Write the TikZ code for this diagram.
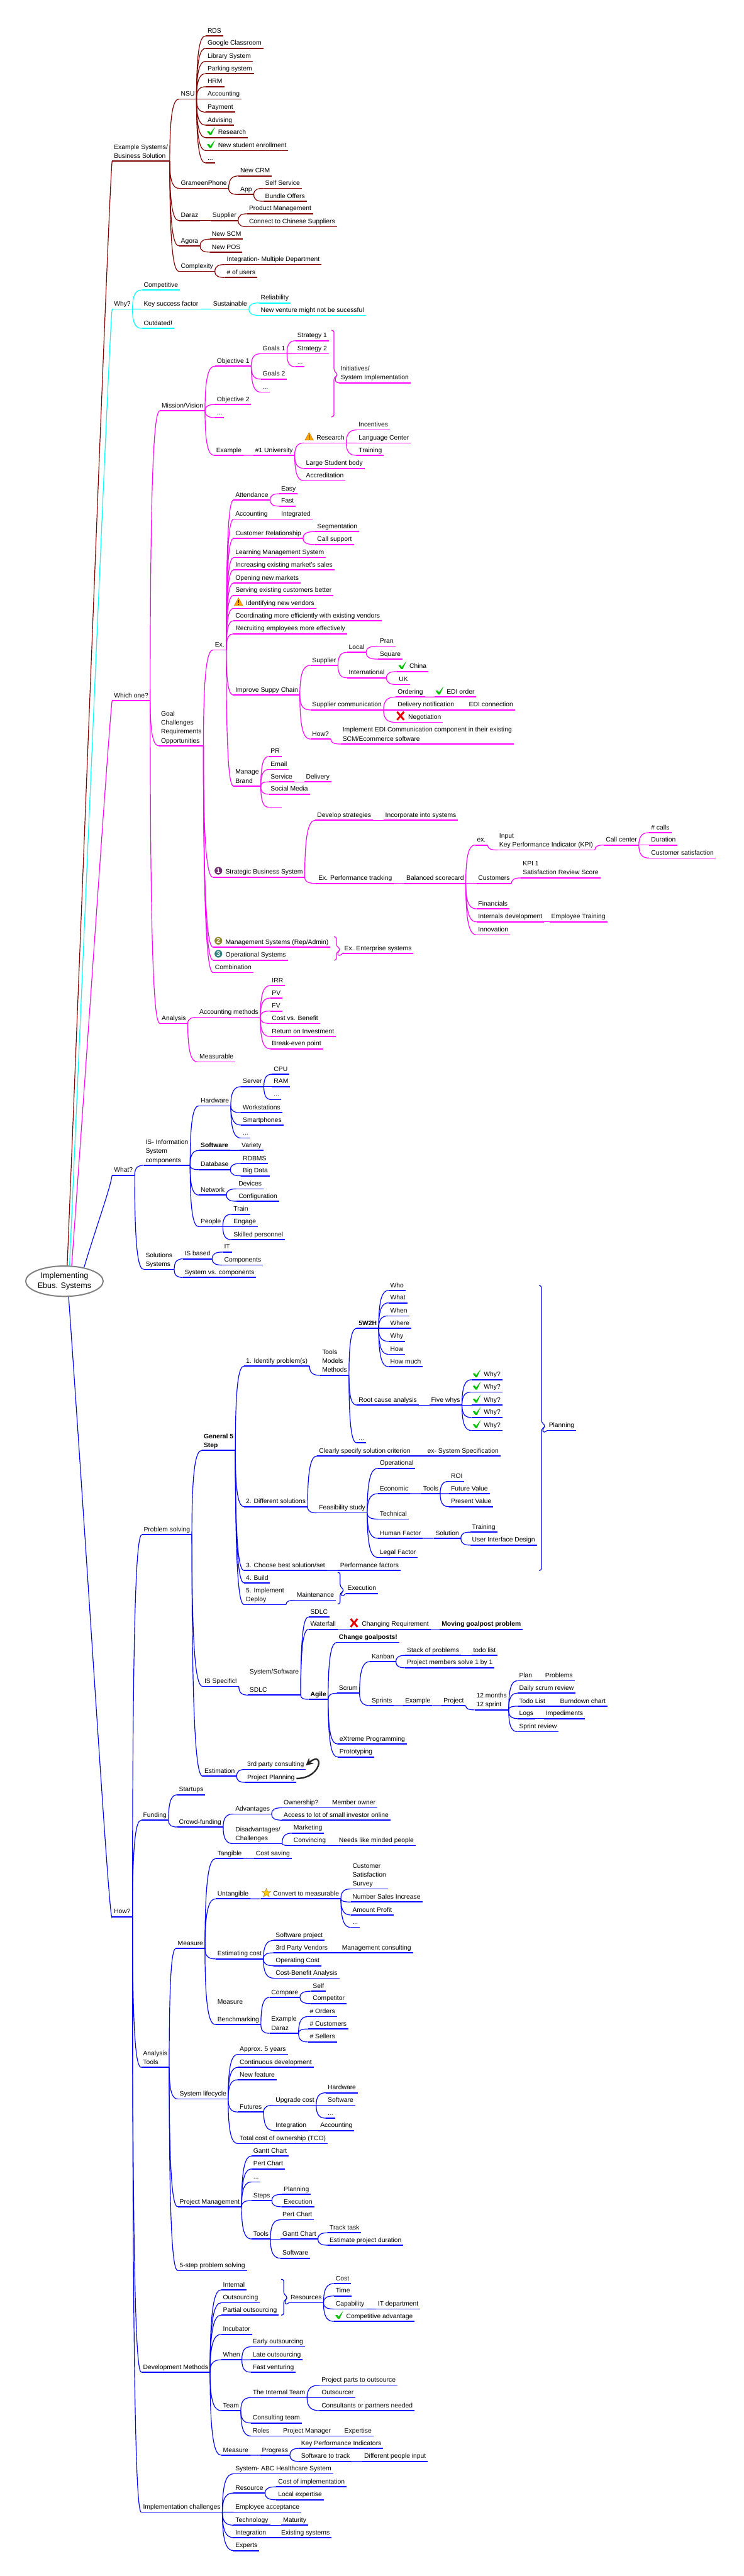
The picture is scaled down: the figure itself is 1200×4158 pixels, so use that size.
\documentclass[tikz,border=0pt]{standalone}
\usepackage{fontspec}
\setmainfont{Liberation Sans}
\usetikzlibrary{calc,arrows.meta,shapes.geometric}
\definecolor{darkbranch}{HTML}{800000}
\definecolor{cyanbranch}{HTML}{00FFFF}
\definecolor{pinkbranch}{HTML}{FF00FF}
\definecolor{bluebranch}{HTML}{0000FF}
\colorlet{branchcol}{darkbranch}
\tikzset{
  topic/.style={anchor=south west,inner xsep=1.5pt,inner ysep=0pt,outer sep=0pt,align=left,font=\fontsize{5.25pt}{7.2pt}\selectfont,text depth=2.5pt},
  under/.style={draw=branchcol,line width=.85pt},
  link/.style={draw=branchcol,line width=.6pt},
  rootnode/.style={ellipse,draw=black!50,line width=1pt,fill=white,minimum width=62.5pt,minimum height=24.5pt,inner sep=0pt,align=center,font=\fontsize{6.4pt}{8.5pt}\selectfont},
  relation/.style={black!85,line width=1.2pt,-{Stealth[length=6pt,width=6pt]}},
  chk/.pic={\fill[green!75!black] (2,-10) -- (5.5,-10.5) -- (7.5,-7.5) -- (15,-17) -- (9,-4) -- (6.5,-4) -- cycle;},
  warn/.pic={\draw[orange!80!black,fill=orange!70!yellow,line width=.2pt] (8,-17) -- (15,-4.5) -- (1,-4.5) -- cycle;
    \draw[black,line width=.5pt] (8,-13.5) -- (8,-8.5) (8,-7) -- (8,-5.8);},
  crossmark/.pic={\draw[red!90!black,line width=1.5pt] (2,-17) -- (13,-4) (13,-17) -- (2,-4);},
  goldstar/.pic={\draw[orange!70!black,fill=yellow!70!orange,line width=.2pt] (9,-17) -- (10.8,-12) -- (16,-12) -- (12,-8.8) -- (13.5,-3.5) -- (9,-6.6) -- (4.5,-3.5) -- (6,-8.8) -- (2,-12) -- (7.2,-12) -- cycle;},
  pics/numicon/.style n args={2}{code={\fill[#1] (8.5,-10.5) circle (3.1pt);
    \node[white,inner sep=0pt,font=\fontsize{5.5pt}{6pt}\selectfont\bfseries] (digit) at (8.5,-10.5) {#2};}}
}
% node with its underline
\newcommand{\bt}[4]{\node[topic] (#1) at (#2-1,#3) {#4};
  \draw[under] (#1.south west) -- (#1.south east);}
% node, underline and the link from its parent
\newcommand{\tp}[5]{\bt{#1}{#3}{#4}{#5}
  \draw[link] (#2.south east) .. controls ($(#2.south east)!.8!(#1.south west -| #2.south east)$) and ($(#1.south west)!.6!(#1.south west -| #2.south east)$) .. (#1.south west);}
% same with an icon in front of the text
\newcommand{\tpi}[6]{\tp{#2}{#3}{#4}{#5}{\hspace*{8.5pt}#6}
  \pic at (#2.south west) {#1};}
\newcommand{\rootlink}[2]{\draw[link] (root.#1) .. controls ($(root.#1)!.5!(#2.south west)$) and ($(#2.south west)+(-4,24)$) .. (#2.south west);}
% summary bracket: name, x, top, bottom, nub, target
\newcommand{\spanbrace}[6]{\coordinate (#1) at (#2+5,#5);
  \draw[link] (#2-4,#3) to[out=0,in=90] (#2,#3+3) -- (#2,#5-10) .. controls (#2,#5-4) and (#2+5,#5-4) .. (#1) .. controls (#2+5,#5+3) and (#2,#5+3) .. (#2,#5+8) -- (#2,#4-3) to[out=-90,in=0] (#2-4,#4);
  \draw[link] (#1) .. controls (#2,#5+8) and (#2+2,#5+13) .. (#6.south west);}

\begin{document}
\begin{tikzpicture}[x=.5pt,y=-.5pt]
\useasboundingbox (0,0) rectangle (1200,4158);
\node[rootnode] (root) at (104,2068) {Implementing\\Ebus. Systems};

% dark red
\bt{exsys}{182}{260}{Example Systems/\\Business Solution}
\rootlink{80}{exsys}
\tp{nsu}{exsys}{290}{160}{NSU}
\tp{rds}{nsu}{333}{58}{RDS}
\tp{gclass}{nsu}{333}{78}{Google Classroom}
\tp{lib}{nsu}{333}{99}{Library System}
\tp{park}{nsu}{333}{119}{Parking system}
\tp{hrm}{nsu}{333}{140}{HRM}
\tp{acc}{nsu}{333}{160}{Accounting}
\tp{pay}{nsu}{333}{181}{Payment}
\tp{adv}{nsu}{333}{202}{Advising}
\tpi{chk}{res}{nsu}{333}{222}{Research}
\tpi{chk}{enrol}{nsu}{333}{243}{New student enrollment}
\tp{nsumore}{nsu}{333}{263}{...}
\tp{gp}{exsys}{290}{304}{GrameenPhone}
\tp{crm}{gp}{386}{284}{New CRM}
\tp{app}{gp}{386}{314}{App}
\tp{self}{app}{426}{304}{Self Service}
\tp{bundle}{app}{426}{325}{Bundle Offers}
\tp{daraz}{exsys}{290}{356}{Daraz}
\tp{supp}{daraz}{341}{356}{Supplier}
\tp{prodm}{supp}{400}{345}{Product Management}
\tp{chinese}{supp}{400}{366}{Connect to Chinese Suppliers}
\tp{agora}{exsys}{290}{397}{Agora}
\tp{scm}{agora}{340}{386}{New SCM}
\tp{pos}{agora}{340}{407}{New POS}
\tp{cplx}{exsys}{290}{438}{Complexity}
\tp{integ}{cplx}{364}{427}{Integration- Multiple Department}
\tp{users}{cplx}{364}{448}{\# of users}

% cyan
\colorlet{branchcol}{cyanbranch}
\bt{why}{182}{499}{Why?}
\rootlink{72}{why}
\tp{comp}{why}{230}{468}{Competitive}
\tp{ksf}{why}{230}{499}{Key success factor}
\tp{outd}{why}{230}{530}{Outdated!}
\tp{sust}{ksf}{342}{499}{Sustainable}
\tp{rely}{sust}{419}{489}{Reliability}
\tp{vent}{sust}{419}{509}{New venture might not be sucessful}

% magenta
\colorlet{branchcol}{pinkbranch}
\bt{which}{182}{1131}{Which one?}
\rootlink{65}{which}
\tp{mission}{which}{259}{663}{Mission/Vision}
\tp{obj1}{mission}{348}{591}{Objective 1}
\tp{goal1}{obj1}{422}{571}{Goals 1}
\tp{strat1}{goal1}{478}{550}{Strategy 1}
\tp{strat2}{goal1}{478}{571}{Strategy 2}
\tp{goal1more}{goal1}{478}{592}{...}
\tp{goal2}{obj1}{422}{612}{Goals 2}
\tp{obj1more}{obj1}{422}{633}{...}
\tp{obj2}{mission}{348}{653}{Objective 2}
\tp{missmore}{mission}{348}{674}{...}
\bt{init}{548}{618}{Initiatives/\\System Implementation}
\spanbrace{initb}{539}{533}{673}{605}{init}
\tp{example}{mission}{347}{735}{Example}
\tp{univ}{example}{410}{735}{\#1 University}
\tpi{warn}{unires}{univ}{492}{715}{Research}
\tp{incent}{unires}{577}{694}{Incentives}
\tp{lang}{unires}{577}{715}{Language Center}
\tp{train}{unires}{577}{735}{Training}
\tp{large}{univ}{492}{756}{Large Student body}
\tp{accr}{univ}{492}{776}{Accreditation}

\tp{goal}{which}{258}{1204}{Goal\\Challenges\\Requirements\\Opportunities}
\tp{exa}{goal}{345}{1049}{Ex.}
\tp{attend}{exa}{378}{807}{Attendance}
\tp{easy}{attend}{452}{797}{Easy}
\tp{fast}{attend}{452}{817}{Fast}
\tp{exacc}{exa}{378}{838}{Accounting}
\tp{integr}{exacc}{452}{838}{Integrated}
\tp{custrel}{exa}{378}{869}{Customer Relationship}
\tp{segm}{custrel}{510}{858}{Segmentation}
\tp{callsup}{custrel}{510}{879}{Call support}
\tp{lms}{exa}{378}{900}{Learning Management System}
\tp{incsales}{exa}{378}{920}{Increasing existing market's sales}
\tp{newmark}{exa}{378}{941}{Opening new markets}
\tp{serving}{exa}{378}{961}{Serving existing customers better}
\tpi{warn}{newvend}{exa}{378}{982}{Identifying new vendors}
\tp{coord}{exa}{378}{1002}{Coordinating more efficiently with existing vendors}
\tp{recruit}{exa}{378}{1023}{Recruiting employees more effectively}
\tp{improve}{exa}{378}{1122}{Improve Suppy Chain}
\tp{supplier}{improve}{502}{1074}{Supplier}
\tp{local}{supplier}{561}{1053}{Local}
\tp{pran}{local}{611}{1043}{Pran}
\tp{square}{local}{611}{1064}{Square}
\tp{intl}{supplier}{561}{1094}{International}
\tpi{chk}{china}{intl}{642}{1084}{China}
\tp{uk}{intl}{642}{1105}{UK}
\tp{suppcom}{improve}{502}{1146}{Supplier communication}
\tp{ordering}{suppcom}{640}{1125}{Ordering}
\tpi{chk}{ediord}{ordering}{702}{1125}{EDI order}
\tp{delnot}{suppcom}{640}{1146}{Delivery notification}
\tp{edicon}{delnot}{755}{1146}{EDI connection}
\tpi{crossmark}{negot}{suppcom}{640}{1166}{Negotiation}
\tp{howedi}{improve}{502}{1193}{How?}
\tp{impl}{howedi}{551}{1201}{Implement EDI Communication component in their existing\\SCM/Ecommerce software}
\tp{brand}{exa}{378}{1269}{Manage\\Brand}
\tp{pr}{brand}{435}{1221}{PR}
\tp{email}{brand}{435}{1242}{Email}
\tp{service}{brand}{435}{1262}{Service}
\tp{deliv}{service}{492}{1262}{Delivery}
\tp{social}{brand}{435}{1282}{Social Media}
\tp{brandmore}{brand}{435}{1303}{\hspace*{7.5pt}}
\tpi{numicon={violet!60!black!80}{1}}{strbus}{goal}{345}{1416}{Strategic Business System}
\tp{devstr}{strbus}{510}{1324}{Develop strategies}
\tp{incorp}{devstr}{620}{1324}{Incorporate into systems}
\tp{perf}{strbus}{512}{1426}{Ex. Performance tracking}
\tp{bal}{perf}{654}{1426}{Balanced scorecard}
\tp{exb}{bal}{768}{1364}{ex.}
\tp{kpi}{exb}{804}{1372}{Input\\Key Performance Indicator (KPI)}
\tp{callc}{kpi}{976}{1364}{Call center}
\tp{calls}{callc}{1049}{1344}{\# calls}
\tp{durat}{callc}{1049}{1364}{Duration}
\tp{csat}{callc}{1049}{1385}{Customer satisfaction}
\tp{cust}{bal}{770}{1426}{Customers}
\tp{kpione}{cust}{842}{1417}{KPI 1\\Satisfaction Review Score}
\tp{fin}{bal}{770}{1467}{Financials}
\tp{inter}{bal}{770}{1488}{Internals development}
\tp{emptr}{inter}{888}{1488}{Employee Training}
\tp{innov}{bal}{770}{1509}{Innovation}
\tpi{numicon={olive!70!gray}{2}}{mgmt}{goal}{345}{1529}{Management Systems (Rep/Admin)}
\tpi{numicon={teal!60!gray}{3}}{oper}{goal}{345}{1550}{Operational Systems}
\tp{combi}{goal}{345}{1570}{Combination}
\bt{enter}{554}{1539}{Ex. Enterprise systems}
\spanbrace{enterb}{543}{1512}{1550}{1533}{enter}
\tp{analysis}{which}{259}{1652}{Analysis}
\tp{acm}{analysis}{320}{1642}{Accounting methods}
\tp{irr}{acm}{437}{1591}{IRR}
\tp{pv}{acm}{437}{1611}{PV}
\tp{fv}{acm}{437}{1632}{FV}
\tp{costben}{acm}{437}{1652}{Cost vs. Benefit}
\tp{roi}{acm}{437}{1673}{Return on Investment}
\tp{breakev}{acm}{437}{1693}{Break-even point}
\tp{measb}{analysis}{320}{1714}{Measurable}

% blue
\colorlet{branchcol}{bluebranch}
\bt{what}{182}{1897}{What?}
\rootlink{35}{what}
\tp{iscomp}{what}{233}{1881}{IS- Information\\System\\components}
\tp{hard}{iscomp}{322}{1785}{Hardware}
\tp{server}{hard}{390}{1754}{Server}
\tp{cpu}{server}{440}{1734}{CPU}
\tp{ram}{server}{440}{1754}{RAM}
\tp{srvmore}{server}{440}{1775}{...}
\tp{works}{hard}{390}{1796}{Workstations}
\tp{smart}{hard}{390}{1816}{Smartphones}
\tp{hardmore}{hard}{390}{1837}{...}
\tp{soft}{iscomp}{322}{1857}{\textbf{Software}}
\tp{variety}{soft}{388}{1857}{Variety}
\tp{dbase}{iscomp}{322}{1888}{Database}
\tp{rdbms}{dbase}{390}{1878}{RDBMS}
\tp{bigd}{dbase}{390}{1898}{Big Data}
\tp{netw}{iscomp}{322}{1929}{Network}
\tp{devices}{netw}{383}{1919}{Devices}
\tp{config}{netw}{383}{1939}{Configuration}
\tp{people}{iscomp}{322}{1980}{People}
\tp{trainp}{people}{375}{1960}{Train}
\tp{engage}{people}{375}{1980}{Engage}
\tp{skilled}{people}{375}{2001}{Skilled personnel}
\tp{solsys}{what}{233}{2049}{Solutions\\Systems}
\tp{isbased}{solsys}{296}{2032}{IS based}
\tp{it}{isbased}{360}{2021}{IT}
\tp{compon}{isbased}{360}{2042}{Components}
\tp{sysvs}{solsys}{296}{2062}{System vs. components}

\bt{how}{182}{3094}{How?}
\draw[link] (root.285) .. controls ($(root.285)!.5!(how.south west)$) and ($(how.south west)+(-4,24)$) .. (how.south west);
\tp{probsol}{how}{230}{2477}{Problem solving}
\tp{gen}{probsol}{327}{2341}{\textbf{General 5}\\\textbf{Step}}
\tp{ident}{gen}{395}{2205}{1. Identify problem(s)}
\tp{tools}{ident}{518}{2220}{Tools\\Models\\Methods}
\tp{fivew}{tools}{577}{2144}{\textbf{5W2H}}
\tp{who}{fivew}{628}{2083}{Who}
\tp{whatq}{fivew}{628}{2103}{What}
\tp{when}{fivew}{628}{2124}{When}
\tp{where}{fivew}{628}{2144}{Where}
\tp{whyq}{fivew}{628}{2165}{Why}
\tp{howq}{fivew}{628}{2186}{How}
\tp{howm}{fivew}{628}{2206}{How much}
\tp{rootc}{tools}{577}{2268}{Root cause analysis}
\tp{fivey}{rootc}{694}{2268}{Five whys}
\tpi{chk}{whya}{fivey}{762}{2227}{Why?}
\tpi{chk}{whyb}{fivey}{762}{2247}{Why?}
\tpi{chk}{whyc}{fivey}{762}{2268}{Why?}
\tpi{chk}{whyd}{fivey}{762}{2288}{Why?}
\tpi{chk}{whye}{fivey}{762}{2309}{Why?}
\tp{toolmore}{tools}{577}{2329}{...}
\tp{diff}{gen}{395}{2432}{2. Different solutions}
\tp{clear}{diff}{513}{2350}{Clearly specify solution criterion}
\tp{sysspec}{clear}{688}{2350}{ex- System Specification}
\tp{feas}{diff}{513}{2442}{Feasibility study}
\tp{opera}{feas}{611}{2370}{Operational}
\tp{econ}{feas}{611}{2411}{Economic}
\tp{toolsb}{econ}{681}{2411}{Tools}
\tp{roib}{toolsb}{726}{2391}{ROI}
\tp{futv}{toolsb}{726}{2411}{Future Value}
\tp{presv}{toolsb}{726}{2432}{Present Value}
\tp{techn}{feas}{611}{2452}{Technical}
\tp{human}{feas}{611}{2483}{Human Factor}
\tp{solut}{human}{701}{2483}{Solution}
\tp{traini}{solut}{760}{2473}{Training}
\tp{uid}{solut}{760}{2494}{User Interface Design}
\tp{legal}{feas}{611}{2514}{Legal Factor}
\tp{choose}{gen}{395}{2535}{3. Choose best solution/set}
\tp{perff}{choose}{547}{2535}{Performance factors}
\bt{plan}{884}{2309}{Planning}
\spanbrace{planb}{874}{2075}{2535}{2302}{plan}
\tp{build}{gen}{395}{2555}{4. Build}
\tp{implem}{gen}{395}{2590}{5. Implement\\Deploy}
\tp{maint}{implem}{477}{2583}{Maintenance}
\bt{exec}{559}{2572}{Execution}
\spanbrace{execb}{549}{2538}{2589}{2567}{exec}
\tp{isspec}{probsol}{328}{2722}{IS Specific!}
\tp{syssoft}{isspec}{401}{2736}{System/Software\\~\\SDLC}
\tp{sdlc}{syssoft}{499}{2610}{SDLC}
\tp{water}{syssoft}{499}{2630}{Waterfall}
\tpi{crossmark}{chreq}{water}{565}{2630}{Changing Requirement}
\tp{moving}{chreq}{711}{2630}{\textbf{Moving goalpost problem}}
\tp{agile}{syssoft}{499}{2743}{\textbf{Agile}}
\tp{change}{agile}{545}{2651}{\textbf{Change goalposts!}}
\tp{scrum}{agile}{545}{2733}{Scrum}
\tp{kanban}{scrum}{598}{2682}{Kanban}
\tp{stack}{kanban}{655}{2672}{Stack of problems}
\tp{todo}{stack}{762}{2672}{todo list}
\tp{members}{kanban}{655}{2692}{Project members solve 1 by 1}
\tp{sprints}{scrum}{598}{2753}{Sprints}
\tp{exmp}{sprints}{652}{2753}{Example}
\tp{proj}{exmp}{714}{2753}{Project}
\tp{twelve}{proj}{767}{2760}{12 months\\12 sprint}
\tp{planp}{twelve}{836}{2713}{Plan}
\tp{problems}{planp}{878}{2713}{Problems}
\tp{daily}{twelve}{836}{2733}{Daily scrum review}
\tp{todol}{twelve}{836}{2754}{Todo List}
\tp{burn}{todol}{902}{2754}{Burndown chart}
\tp{logs}{twelve}{836}{2774}{Logs}
\tp{imped}{logs}{879}{2774}{Impediments}
\tp{review}{twelve}{836}{2795}{Sprint review}
\tp{xp}{agile}{546}{2815}{eXtreme Programming}
\tp{proto}{agile}{546}{2836}{Prototyping}
\tp{estim}{probsol}{328}{2867}{Estimation}
\tp{consult}{estim}{397}{2856}{3rd party consulting}
\tp{planpr}{estim}{397}{2877}{Project Planning}
\draw[relation] (planpr.east) .. controls +(42,0) and +(30,-26) .. (consult.east);

\tp{fund}{how}{229}{2938}{Funding}
\tp{startup}{fund}{287}{2897}{Startups}
\tp{crowd}{fund}{287}{2949}{Crowd-funding}
\tp{advan}{crowd}{378}{2928}{Advantages}
\tp{owner}{advan}{456}{2918}{Ownership?}
\tp{member}{owner}{534}{2918}{Member owner}
\tp{access}{advan}{456}{2938}{Access to lot of small investor online}
\tp{disad}{crowd}{378}{2976}{Disadvantages/\\Challenges}
\tp{market}{disad}{472}{2959}{Marketing}
\tp{convin}{disad}{472}{2979}{Convincing}
\tp{needs}{convin}{545}{2979}{Needs like minded people}

\tp{antools}{how}{229}{3337}{Analysis\\Tools}
\tp{measure}{antools}{285}{3145}{Measure}
\tp{tang}{measure}{349}{3000}{Tangible}
\tp{saving}{tang}{411}{3000}{Cost saving}
\tp{untang}{measure}{349}{3065}{Untangible}
\tpi{goldstar}{convert}{untang}{422}{3065}{Convert to measurable}
\tp{survey}{convert}{567}{3049}{Customer\\Satisfaction\\Survey}
\tp{numsal}{convert}{567}{3070}{Number Sales Increase}
\tp{amount}{convert}{567}{3091}{Amount Profit}
\tp{convmore}{convert}{567}{3111}{...}
\tp{estcost}{measure}{349}{3162}{Estimating cost}
\tp{softpr}{estcost}{443}{3132}{Software project}
\tp{thirdp}{estcost}{443}{3152}{3rd Party Vendors}
\tp{mgmtcon}{thirdp}{550}{3152}{Management consulting}
\tp{opcost}{estcost}{443}{3173}{Operating Cost}
\tp{cba}{estcost}{443}{3193}{Cost-Benefit Analysis}
\tp{bench}{measure}{349}{3268}{Measure\\~\\Benchmarking}
\tp{compare}{bench}{436}{3224}{Compare}
\tp{selfc}{compare}{503}{3214}{Self}
\tp{compet}{compare}{503}{3234}{Competitor}
\tp{exdar}{bench}{436}{3282}{Example\\Daraz}
\tp{orders}{exdar}{498}{3255}{\# Orders}
\tp{custom}{exdar}{498}{3275}{\# Customers}
\tp{sellers}{exdar}{498}{3296}{\# Sellers}
\tp{lifec}{antools}{288}{3388}{System lifecycle}
\tp{approx}{lifec}{385}{3316}{Approx. 5 years}
\tp{contd}{lifec}{385}{3337}{Continuous development}
\tp{newf}{lifec}{385}{3357}{New feature}
\tp{future}{lifec}{385}{3409}{Futures}
\tp{upgr}{future}{443}{3398}{Upgrade cost}
\tp{hardw}{upgr}{527}{3378}{Hardware}
\tp{softw}{upgr}{527}{3398}{Software}
\tp{upgmore}{upgr}{527}{3419}{...}
\tp{integn}{future}{443}{3439}{Integration}
\tp{accnt}{integn}{515}{3439}{Accounting}
\tp{tco}{lifec}{385}{3460}{Total cost of ownership (TCO)}
\tp{pm}{antools}{288}{3562}{Project Management}
\tp{gantta}{pm}{407}{3480}{Gantt Chart}
\tp{perta}{pm}{407}{3501}{Pert Chart}
\tp{pmmore}{pm}{407}{3522}{...}
\tp{steps}{pm}{407}{3552}{Steps}
\tp{planni}{steps}{456}{3542}{Planning}
\tp{execu}{steps}{456}{3562}{Execution}
\tp{toolsc}{pm}{407}{3614}{Tools}
\tp{pertb}{toolsc}{454}{3583}{Pert Chart}
\tp{ganttb}{toolsc}{454}{3614}{Gantt Chart}
\tp{track}{ganttb}{530}{3604}{Track task}
\tp{duration}{ganttb}{530}{3624}{Estimate project duration}
\tp{softb}{toolsc}{454}{3645}{Software}
\tp{fivestep}{antools}{288}{3665}{5-step problem solving}

\tp{devm}{how}{229}{3829}{Development Methods}
\tp{internal}{devm}{358}{3696}{Internal}
\tp{outs}{devm}{358}{3717}{Outsourcing}
\tp{partial}{devm}{358}{3737}{Partial outsourcing}
\bt{resrc}{467}{3717}{Resources}
\spanbrace{resrcb}{458}{3679}{3737}{3709}{resrc}
\tp{costr}{resrc}{540}{3686}{Cost}
\tp{timer}{resrc}{540}{3706}{Time}
\tp{capab}{resrc}{540}{3727}{Capability}
\tp{itdep}{capab}{608}{3727}{IT department}
\tpi{chk}{compadv}{resrc}{540}{3747}{Competitive advantage}
\tp{incub}{devm}{358}{3768}{Incubator}
\tp{whenb}{devm}{358}{3809}{When}
\tp{early}{whenb}{406}{3788}{Early outsourcing}
\tp{late}{whenb}{406}{3809}{Late outsourcing}
\tp{fastv}{whenb}{406}{3829}{Fast venturing}
\tp{team}{devm}{358}{3891}{Team}
\tp{intteam}{team}{406}{3870}{The Internal Team}
\tp{parts}{intteam}{517}{3850}{Project parts to outsource}
\tp{outsr}{intteam}{517}{3870}{Outsourcer}
\tp{consp}{intteam}{517}{3891}{Consultants or partners needed}
\tp{consteam}{team}{406}{3911}{Consulting team}
\tp{roles}{team}{406}{3932}{Roles}
\tp{pmgr}{roles}{455}{3932}{Project Manager}
\tp{expert}{pmgr}{554}{3932}{Expertise}
\tp{measm}{devm}{358}{3963}{Measure}
\tp{progr}{measm}{421}{3963}{Progress}
\tp{kpis}{progr}{484}{3952}{Key Performance Indicators}
\tp{softtr}{progr}{484}{3973}{Software to track}
\tp{diffp}{softtr}{586}{3973}{Different people input}

\tp{implc}{how}{229}{4055}{Implementation challenges}
\tp{abc}{implc}{378}{3993}{System- ABC Healthcare System}
\tp{resour}{implc}{378}{4024}{Resource}
\tp{costi}{resour}{447}{4014}{Cost of implementation}
\tp{locale}{resour}{447}{4035}{Local expertise}
\tp{empac}{implc}{378}{4055}{Employee acceptance}
\tp{techno}{implc}{378}{4076}{Technology}
\tp{matur}{techno}{455}{4076}{Maturity}
\tp{integs}{implc}{378}{4096}{Integration}
\tp{existing}{integs}{452}{4096}{Existing systems}
\tp{experts}{implc}{378}{4117}{Experts}
\end{tikzpicture}
\end{document}
